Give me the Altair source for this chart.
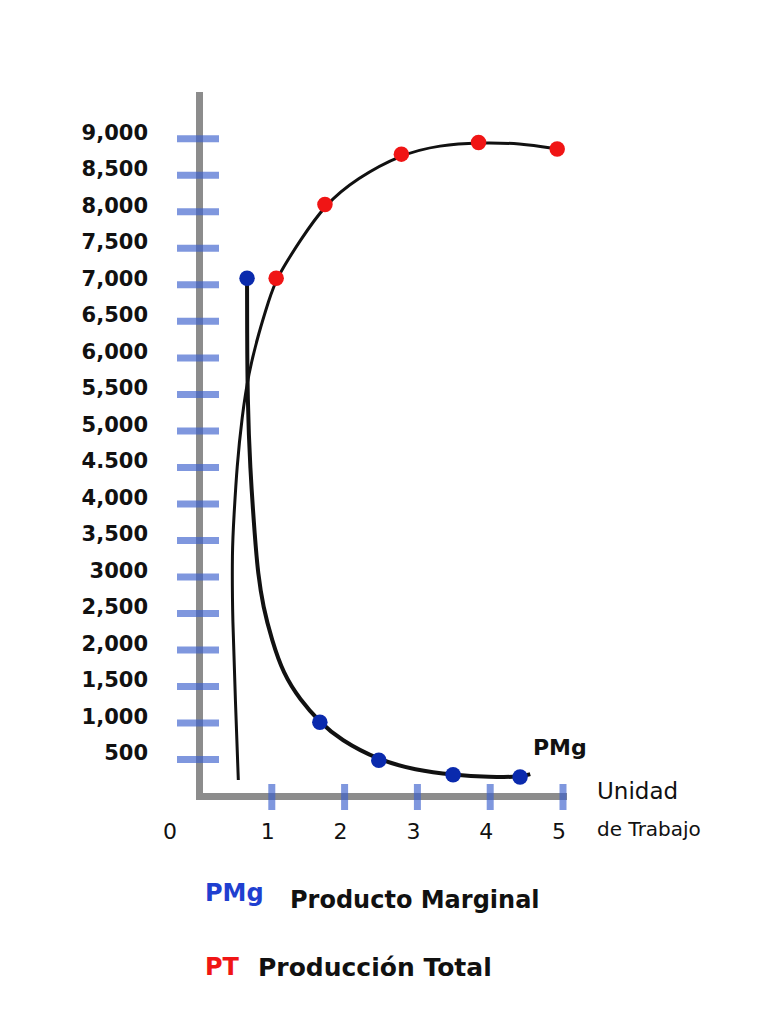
import altair as alt
import pandas as pd

# ---- data -------------------------------------------------------------
y_tick_values = [500, 1000, 1500, 2000, 2500, 3000, 3500, 4000, 4500,
                 5000, 5500, 6000, 6500, 7000, 7500, 8000, 8500, 9000]
y_tick_labels = ["500", "1,000", "1,500", "2,000", "2,500", "3000", "3,500",
                 "4,000", "4.500", "5,000", "5,500", "6,000", "6,500",
                 "7,000", "7,500", "8,000", "8,500", "9,000"]
x_tick_values = [1, 2, 3, 4, 5]
x_tick_labels = ["1", "2", "3", "4", "5"]

# Producción Total (PT): marked points and the drawn curve
pt_x = [1.06, 1.73, 2.78, 3.84, 4.92]
pt_y = [7090, 8100, 8790, 8950, 8860]
pt_curve_x = [0.54, 0.50, 0.46, 0.454, 0.48, 0.52, 0.59, 0.68, 0.82, 0.96,
              1.06, 1.39, 1.73, 2.17, 2.78, 3.31, 3.84, 4.41, 4.92]
pt_curve_y = [220, 1320, 2410, 3370, 3820, 4510, 5190, 5790, 6340, 6790,
              7090, 7610, 8100, 8460, 8790, 8915, 8950, 8940, 8860]

# Producto Marginal (PMg): marked points and the drawn curve
pmg_x = [0.66, 1.66, 2.47, 3.49, 4.41]
pmg_y = [7090, 1010, 490, 290, 260]
pmg_curve_x = [0.66, 0.661, 0.667, 0.70, 0.77, 0.81, 0.88, 1.00, 1.155,
               1.39, 1.66, 1.94, 2.47, 2.97, 3.49, 4.00, 4.41, 4.55]
pmg_curve_y = [7090, 6380, 5420, 4510, 3510, 3050, 2590, 2140, 1680,
               1315, 1010, 770, 490, 356, 290, 260, 260, 300]

# ---- styling ------------------------------------------------------------
FONT = "DejaVu Sans"
AXIS_GRAY = "#8c8c8c"
TICK_BLUE = "#3a5fcd"
PT_RED = "#f01515"
PMG_BLUE = "#0a2aad"
W, H = 364, 701

xs = alt.Scale(domain=[0, 5])
ys = alt.Scale(domain=[0, 9600])
axis_x = alt.Axis(labels=False, ticks=False, grid=False, title=None,
                  domainColor=AXIS_GRAY, domainWidth=7, domainCap="square")
axis_y = alt.Axis(labels=False, ticks=False, grid=False, title=None,
                  domainColor=AXIS_GRAY, domainWidth=7, domainCap="square")

yt = pd.DataFrame({"v": y_tick_values, "label": y_tick_labels})
xt = pd.DataFrame({"v": x_tick_values, "label": x_tick_labels})
pt_pts = pd.DataFrame({"x": pt_x, "y": pt_y})
pmg_pts = pd.DataFrame({"x": pmg_x, "y": pmg_y})
pt_line = pd.DataFrame({"x": pt_curve_x, "y": pt_curve_y,
                        "i": range(len(pt_curve_x))})
pmg_line = pd.DataFrame({"x": pmg_curve_x, "y": pmg_curve_y,
                         "i": range(len(pmg_curve_x))})

# axes frame (domain lines only)
frame = alt.Chart(pd.DataFrame({"x": [0, 5], "y": [0, 9600]})).mark_point(
    opacity=0).encode(
    x=alt.X("x:Q", scale=xs, axis=axis_x),
    y=alt.Y("y:Q", scale=ys, axis=axis_y),
)

# blue tick bars crossing the axes
y_ticks = alt.Chart(yt).mark_rule(color=TICK_BLUE, opacity=0.65,
                                  strokeWidth=7).encode(
    y=alt.Y("v:Q", scale=ys), x=alt.value(-22), x2=alt.value(20))
x_ticks = alt.Chart(xt).mark_rule(color=TICK_BLUE, opacity=0.65,
                                  strokeWidth=7).encode(
    x=alt.X("v:Q", scale=xs), y=alt.value(H - 12), y2=alt.value(H + 14))

y_labels = alt.Chart(yt).mark_text(align="right", baseline="middle", dy=-5,
                                   font=FONT, fontWeight="bold",
                                   fontSize=21, color="#111").encode(
    y=alt.Y("v:Q", scale=ys), x=alt.value(-51), text="label:N")
x_labels = alt.Chart(xt).mark_text(align="center", baseline="middle", dx=-4,
                                   font=FONT, fontSize=22,
                                   color="#111").encode(
    x=alt.X("v:Q", scale=xs), y=alt.value(H + 36), text="label:N")


def note(text, x, y, size, color="#111", weight="bold", align="left"):
    return alt.Chart(pd.DataFrame({"t": [text]})).mark_text(
        align=align, baseline="middle", font=FONT, fontSize=size,
        fontWeight=weight, color=color).encode(
        x=alt.value(x), y=alt.value(y), text="t:N")


pt_curve = alt.Chart(pt_line).mark_line(
    color="#111", strokeWidth=3, interpolate="basis").encode(
    x=alt.X("x:Q", scale=xs), y=alt.Y("y:Q", scale=ys), order="i:Q")
pmg_curve = alt.Chart(pmg_line).mark_line(
    color="#111", strokeWidth=4, interpolate="basis").encode(
    x=alt.X("x:Q", scale=xs), y=alt.Y("y:Q", scale=ys), order="i:Q")

pt_dots = alt.Chart(pt_pts).mark_point(
    filled=True, opacity=1, size=240, color=PT_RED).encode(
    x=alt.X("x:Q", scale=xs), y=alt.Y("y:Q", scale=ys))
pmg_dots = alt.Chart(pmg_pts).mark_point(
    filled=True, opacity=1, size=240, color=PMG_BLUE).encode(
    x=alt.X("x:Q", scale=xs), y=alt.Y("y:Q", scale=ys))

chart = alt.layer(
    frame, y_ticks, x_ticks, y_labels, x_labels,
    pt_curve, pmg_curve, pt_dots, pmg_dots,
    note("0", -29, H + 36, 22, weight="normal", align="center"),
    note("PMg", 334, H - 48, 22),
    note("Unidad", 398, H - 4, 23, weight="normal"),
    note("de Trabajo", 398, H + 34, 20, weight="normal"),
    note("PMg", 6, H + 98, 24, color="#1f3fd0"),
    note("Producto Marginal", 91, H + 105, 24),
    note("PT", 6, H + 172, 24, color=PT_RED),
    note("Producción Total", 59, H + 172, 25),
).properties(
    width=W, height=H,
    background="white",
    autosize=alt.AutoSizeParams(type="none"),
    padding={"left": 199, "top": 95, "right": 205, "bottom": 228},
).configure_view(stroke=None)

chart.save("out.html", embed_options={"renderer": "svg", "actions": False})
